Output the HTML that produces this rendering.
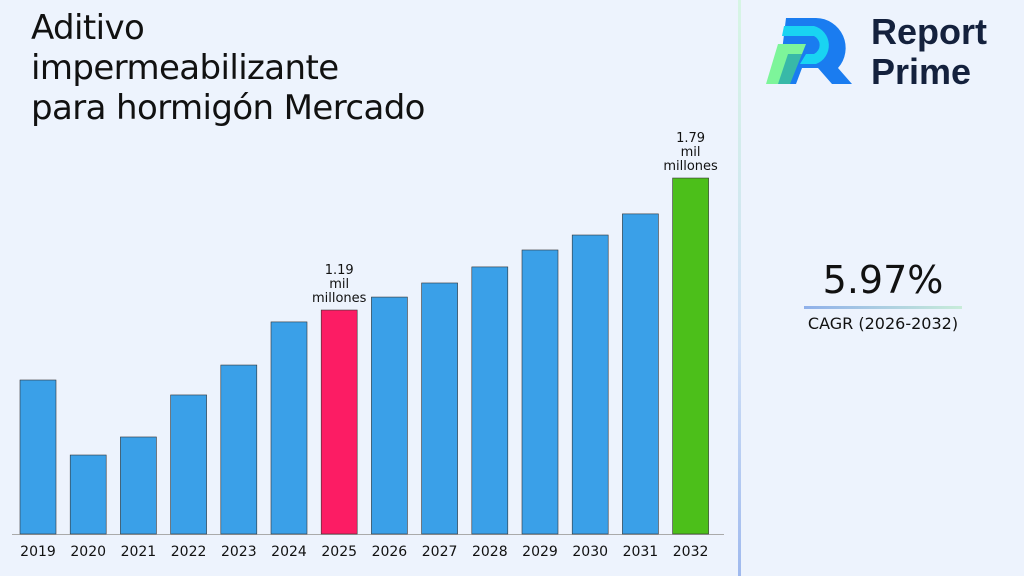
<!DOCTYPE html>
<html><head><meta charset="utf-8"><style>
body{margin:0;width:1024px;height:576px;background:#edf3fd;font-family:"Liberation Sans","DejaVu Sans",sans-serif;overflow:hidden;position:relative}
#title{position:absolute;left:31px;top:8px;font-size:34px;line-height:40px;color:#111;font-family:"DejaVu Sans","Liberation Sans",sans-serif;letter-spacing:-0.6px}
#divider{position:absolute;left:738px;top:0;width:3px;height:576px;background:linear-gradient(#d6f5e4,#cfe0f7 60%,#9fb9ee)}
#logo-text{position:absolute;left:871px;top:12px;font-size:36px;line-height:40px;font-weight:bold;color:#14213d}
#cagr{position:absolute;left:800px;top:258px;width:166px;text-align:center}
#cagr .v{font-size:38px;color:#111;font-family:"DejaVu Sans",sans-serif}
#cagr .l{height:3px;margin:4px 4px 5px;background:linear-gradient(90deg,#8fb0ea,#c8ecd9)}
#cagr .c{font-size:16px;color:#111;font-family:"DejaVu Sans",sans-serif}
</style></head><body>
<div id="title">Aditivo<br>impermeabilizante<br>para hormigón Mercado</div>
<div id="divider"></div>
<svg style="position:absolute;left:766px;top:16px" width="90" height="70" viewBox="0 0 90 70">
<path d="M20 2 H50 A30 30 0 0 1 72 52 L86 68 H66 L52 52 H36 L30 68 H12 Z" fill="#1a7cf0"/>
<path d="M18 10 H48 A20 20 0 0 1 50 48 H34 L40 38 H48 A10 10 0 0 0 48 20 H16 Z" fill="#19d4f2"/>
<path d="M12 28 H40 L36 38 H26 L14 68 H0 Z" fill="#7df59a"/>
<path d="M22 38 H36 L24 68 H12 Z" fill="#38b9a8"/>
</svg>
<div id="logo-text">Report<br>Prime</div>
<div id="cagr">
<div class="v">5.97%</div>
<div class="l"></div>
<div class="c">CAGR (2026-2032)</div>
</div>
<svg id="chart" style="position:absolute;left:0;top:0" width="738" height="576"></svg>
<script>
const years=["2019","2020","2021","2022","2023","2024","2025","2026","2027","2028","2029","2030","2031","2032"];
const values=[0.872,0.531,0.613,0.804,0.940,1.136,1.19,1.249,1.313,1.386,1.463,1.531,1.627,1.79];
const labels={6:["1.19","mil","millones"],13:["1.79","mil","millones"]};
const colors={6:"#fc1c64",13:"#4cbf1a"};
const svg=document.getElementById('chart');
const NS="http://www.w3.org/2000/svg";
const y0=534,vMin=0.172,pxPer=220;
function yS(v){return y0-(v-vMin)*pxPer;}
function xS(i){return 20+i*50.2;}
const bw=36;
const ax=document.createElementNS(NS,'line');
ax.setAttribute('x1',12);ax.setAttribute('x2',724);ax.setAttribute('y1',y0+0.5);ax.setAttribute('y2',y0+0.5);
ax.setAttribute('stroke','#aaa');


svg.appendChild(ax);
values.forEach((v,i)=>{
  const r=document.createElementNS(NS,'rect');
  const t=yS(v);
  r.setAttribute('x',xS(i));r.setAttribute('y',t);r.setAttribute('width',bw);r.setAttribute('height',y0-t);
  r.setAttribute('fill',colors[i]||'#3aa0e8');r.setAttribute('stroke','#333');r.setAttribute('stroke-width','0.6');
  
  
  svg.appendChild(r);
  const tx=document.createElementNS(NS,'text');
  tx.setAttribute('x',xS(i)+bw/2);tx.setAttribute('y',556);tx.setAttribute('text-anchor','middle');
  tx.setAttribute('font-size','14');tx.setAttribute('fill','#111');tx.setAttribute('font-family','DejaVu Sans, sans-serif');
  tx.textContent=years[i];
  
  
  svg.appendChild(tx);
  if(labels[i]){
    labels[i].forEach((s,k)=>{
      const l=document.createElementNS(NS,'text');
      l.setAttribute('x',xS(i)+bw/2);l.setAttribute('y',t-36+k*14);l.setAttribute('text-anchor','middle');
      l.setAttribute('font-size','13');l.setAttribute('fill','#111');l.setAttribute('font-family','DejaVu Sans, sans-serif');
      l.textContent=s;
      
      
      svg.appendChild(l);
    });
  }
});
</script>
</body></html>
